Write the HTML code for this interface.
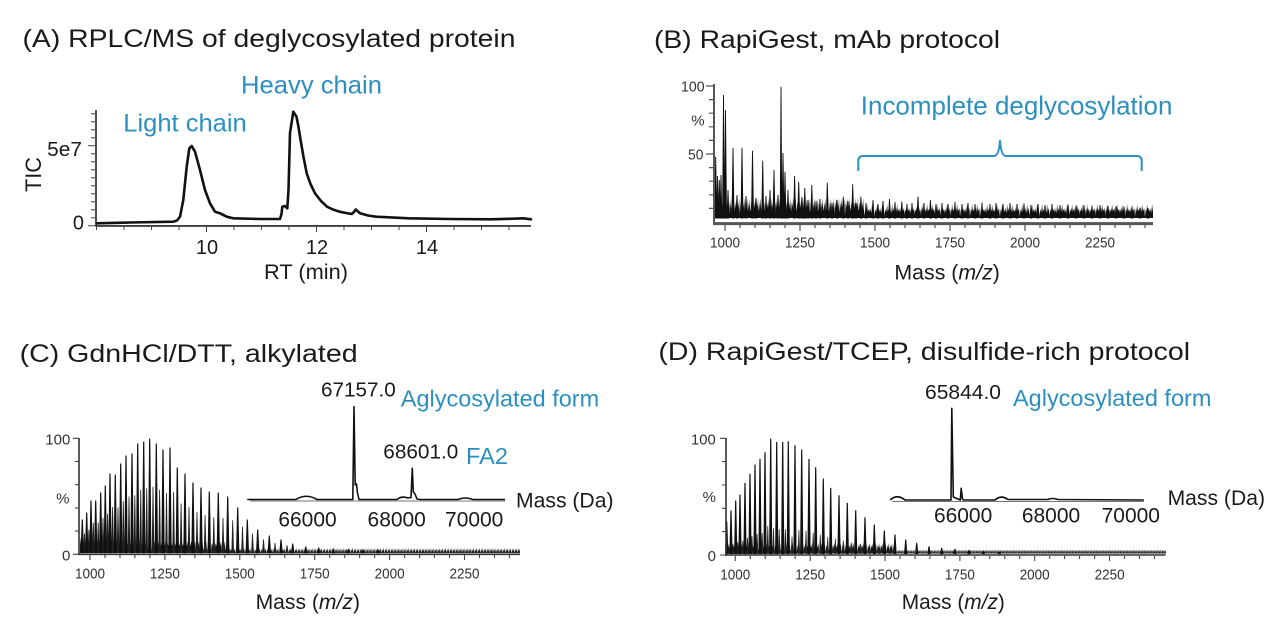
<!DOCTYPE html>
<html><head><meta charset="utf-8"><style>
html,body{margin:0;padding:0;background:#fff;}
svg{display:block;}
text{font-family:"Liberation Sans",Arial,sans-serif;}
</style></head><body>
<svg width="1280" height="632" viewBox="0 0 1280 632" xmlns="http://www.w3.org/2000/svg">
<defs>
<pattern id="pB1" x="0" y="200" width="5" height="20" patternUnits="userSpaceOnUse"><path d="M0,18L0.7,10L1.4,13L2.1,4L2.8,12L3.6,9L4.3,13L5,18Z" fill="#111"/></pattern>
<pattern id="pB2" x="0" y="200" width="3.3" height="20" patternUnits="userSpaceOnUse"><path d="M0,18L0.8,9L1.6,12L2.4,7.5L3.3,18Z" fill="#111"/></pattern>
<pattern id="pB3" x="0" y="190" width="2.7" height="30" patternUnits="userSpaceOnUse"><path d="M0,28L0.6,12L1.3,18L2,8L2.7,28Z" fill="#111"/></pattern>
<pattern id="pC1" x="0" y="530" width="2.9" height="24" patternUnits="userSpaceOnUse"><path d="M0,23L0.7,10L1.4,14L2.2,7L2.9,23Z" fill="#111"/></pattern>
<pattern id="pC2" x="0" y="530" width="3.7" height="24" patternUnits="userSpaceOnUse"><path d="M0,23L0.9,13L1.8,16L2.7,11L3.7,23Z" fill="#111"/></pattern>
<pattern id="pC3" x="0" y="540" width="3.1" height="14" patternUnits="userSpaceOnUse"><path d="M0,13L0.8,9L1.6,11L2.3,8L3.1,13Z" fill="#222"/></pattern>
<pattern id="pD1" x="0" y="536" width="3.2" height="18" patternUnits="userSpaceOnUse"><path d="M0,17L0.8,9L1.6,12L2.4,7L3.2,17Z" fill="#111"/></pattern>
<pattern id="pD2" x="0" y="544" width="3" height="10" patternUnits="userSpaceOnUse"><path d="M0,9.5L0.8,6L1.6,7.5L2.3,5.5L3,9.5Z" fill="#222"/></pattern>
</defs>

<!-- ================= PANEL A ================= -->
<text x="22.5" y="47" font-size="25" fill="#1a1a1a" textLength="493" lengthAdjust="spacingAndGlyphs">(A) RPLC/MS of deglycosylated protein</text>
<text x="241" y="93.5" font-size="25" fill="#2b8fbf" textLength="141" lengthAdjust="spacingAndGlyphs">Heavy chain</text>
<text x="123.3" y="131.7" font-size="25" fill="#2b8fbf" textLength="123.4" lengthAdjust="spacingAndGlyphs">Light chain</text>
<text transform="translate(41,174.5) rotate(-90)" text-anchor="middle" font-size="22" fill="#1a1a1a" textLength="35" lengthAdjust="spacingAndGlyphs">TIC</text>
<text x="82" y="156" text-anchor="end" font-size="20" fill="#1a1a1a" textLength="34.8" lengthAdjust="spacingAndGlyphs">5e7</text>
<text x="84" y="229.5" text-anchor="end" font-size="20" fill="#1a1a1a">0</text>
<text x="207" y="254" text-anchor="middle" font-size="20" fill="#1a1a1a">10</text>
<text x="317" y="254" text-anchor="middle" font-size="20" fill="#1a1a1a">12</text>
<text x="427" y="254" text-anchor="middle" font-size="20" fill="#1a1a1a">14</text>
<text x="264" y="279" font-size="21" fill="#1a1a1a" textLength="84" lengthAdjust="spacingAndGlyphs">RT (min)</text>
<path d="M96,110V226.5M95.5,225.9H531" stroke="#222" stroke-width="1.6" fill="none"/>
<path d="M88,225.7H96M91,217.7H96M91,209.7H96M91,201.7H96M91,193.7H96M91,185.7H96M91,177.7H96M91,169.7H96M91,161.7H96M91,153.7H96M88,145.7H96M91,137.7H96M91,129.7H96M91,121.7H96M91,113.7H96" stroke="#444" stroke-width="1" fill="none"/>
<path d="M96.5,226V230M124,226V230M151.5,226V230M179,226V230M206.5,226V232M234,226V230M261.5,226V230M289,226V230M316.5,226V232M344,226V230M371.5,226V230M399,226V230M426.5,226V232M454,226V230M481.5,226V230M509,226V230" stroke="#444" stroke-width="1" fill="none"/>
<path d="M96.7,223.3L130,222.5L173.3,221.7L177,220.5L180,216.7L183.3,200L186.7,166.7L189.3,148.3L191.7,146L195,151.7L200,170L205,190L210,203.3L215,211.7L220,213.3L226.7,216.7L233.3,218.3L260,219L280,219L281.5,214L282.3,206.7L285,206L287.3,208.3L288.5,190L290,133L293.3,111.7L296.5,116.7L298.5,127L300.6,140L303.5,157L306.7,173.3L310.5,184L315,193.3L321,201L327,206.7L333,209.5L339.5,211.7L346,213L351.7,214L354,212L355.8,209.5L358,211.5L360,213.3L368,215.5L376,216.7L409,218.3L450,219L491,219.3L510,218.8L523.5,218.3L531,219.3" stroke="#111" stroke-width="2.6" fill="none" stroke-linejoin="round" stroke-linecap="round"/>

<!-- ================= PANEL B ================= -->
<text x="654" y="48" font-size="25" fill="#1a1a1a" textLength="346" lengthAdjust="spacingAndGlyphs">(B) RapiGest, mAb protocol</text>
<text x="860.8" y="114.3" font-size="26" fill="#2b8fbf" textLength="311.6" lengthAdjust="spacingAndGlyphs">Incomplete deglycosylation</text>
<path d="M858.3,171L858.3,161Q858.3,156 863.3,156L994,156Q999,156 1000,140Q1001,156 1006,156L1136.7,156Q1141.7,156 1141.7,161L1141.7,171" stroke="#2b8fbf" stroke-width="2" fill="none"/>
<text x="704.6" y="91.4" text-anchor="end" font-size="15" fill="#333" textLength="23.6" lengthAdjust="spacingAndGlyphs">100</text>
<text x="704.6" y="125.4" text-anchor="end" font-size="15" fill="#333">%</text>
<text x="703.4" y="159.4" text-anchor="end" font-size="15" fill="#333" textLength="15.4" lengthAdjust="spacingAndGlyphs">50</text>
<g font-size="15" fill="#333" text-anchor="middle">
<text x="725" y="247.3" textLength="30" lengthAdjust="spacingAndGlyphs">1000</text>
<text x="800" y="247.3" textLength="30" lengthAdjust="spacingAndGlyphs">1250</text>
<text x="875" y="247.3" textLength="30" lengthAdjust="spacingAndGlyphs">1500</text>
<text x="950" y="247.3" textLength="30" lengthAdjust="spacingAndGlyphs">1750</text>
<text x="1025" y="247.3" textLength="30" lengthAdjust="spacingAndGlyphs">2000</text>
<text x="1100" y="247.3" textLength="30" lengthAdjust="spacingAndGlyphs">2250</text>
</g>
<text x="894.4" y="279.3" font-size="21" fill="#1a1a1a" textLength="105.5" lengthAdjust="spacingAndGlyphs">Mass (<tspan font-style="italic">m/z</tspan>)</text>
<rect x="714" y="200" width="439" height="18.5" fill="url(#pB1)"/>
<rect x="714" y="200" width="439" height="18.5" fill="url(#pB2)"/>
<rect x="714" y="190" width="150" height="28" fill="url(#pB3)"/>
<path fill="#111" stroke="#111" stroke-width="0.9" d="M714.8,218L715.7,156.7L716.6,218ZM716.6,218L717.5,176L718.4,218ZM718.4,218L719.3,180L720.2,218ZM720.1,218L721,175L721.9,218ZM722.6,218L723.5,95L724.4,218ZM724.5,218L725.5,110L726.5,218ZM727.1,218L728,190L728.9,218ZM732,218L733,148L734,218ZM736.1,218L737,195L737.9,218ZM741,218L742,147.7L743,218ZM745.1,218L746,196L746.9,218ZM751.5,218L752.5,150.7L753.5,218ZM755.1,218L756,198L756.9,218ZM761.7,218L762.7,160.7L763.7,218ZM765.1,218L766,196L766.9,218ZM769.1,218L770,190L770.9,218ZM773,218L774,170L775,218ZM777.1,218L778,195L778.9,218ZM780.2,218L781,86.7L781.8,218ZM782,218L783,153L784,218ZM784.1,218L785,171.7L785.9,218ZM787.1,218L788,190L788.9,218ZM793.6,218L794.6,176L795.6,218ZM797.7,218L798.7,181.7L799.7,218ZM801.1,218L802,197L802.9,218ZM803.8,218L804.8,188L805.8,218ZM807.1,218L808,200L808.9,218ZM810.8,218L811.8,185L812.8,218ZM815.1,218L816,201L816.9,218ZM819.1,218L820,199L820.9,218ZM826.3,218L827.3,182.7L828.3,218ZM831.1,218L832,203L832.9,218ZM836.1,218L837,200L837.9,218ZM842.3,218L843.3,196.7L844.3,218ZM847.1,218L848,201L848.9,218ZM851.7,218L852.7,184.3L853.7,218ZM855.1,218L856,203L856.9,218ZM859.9,218L860.9,196.7L861.9,218ZM865.1,218L866,203L866.9,218ZM872,218L873,200L874,218ZM877.1,218L878,204L878.9,218ZM882,218L883,201L884,218ZM888.5,218L889.5,199L890.5,218ZM894.1,218L895,202L895.9,218ZM900.8,218L901.8,201.7L902.8,218ZM906.1,218L907,204L907.9,218ZM911.1,218L912,203L912.9,218ZM917,218L918,196.7L919,218ZM923.1,218L924,203L924.9,218ZM929.4,218L930.4,200L931.4,218ZM935.1,218L936,204L936.9,218ZM941.1,218L942,203L942.9,218ZM947.1,218L948,204L948.9,218ZM954.1,218L955,202L955.9,218ZM961.1,218L962,204L962.9,218ZM967.1,218L968,203L968.9,218ZM974.1,218L975,204L975.9,218ZM981.1,218L982,202.5L982.9,218ZM989.1,218L990,204L990.9,218ZM995.1,218L996,203L996.9,218ZM1002.1,218L1003,204L1003.9,218ZM1009.1,218L1010,203L1010.9,218ZM1016.1,218L1017,204L1017.9,218ZM1023.1,218L1024,203.5L1024.9,218ZM1030.1,218L1031,205L1031.9,218ZM1037.1,218L1038,204L1038.9,218ZM1044.1,218L1045,205L1045.9,218ZM1051.1,218L1052,204L1052.9,218ZM1059.1,218L1060,205L1060.9,218ZM1067.1,218L1068,204.5L1068.9,218ZM1075.1,218L1076,205.5L1076.9,218ZM1083.1,218L1084,205L1084.9,218ZM1091.1,218L1092,206L1092.9,218ZM1099.1,218L1100,205L1100.9,218ZM1107.1,218L1108,206L1108.9,218ZM1115.1,218L1116,206L1116.9,218ZM1123.1,218L1124,206.5L1124.9,218ZM1131.1,218L1132,207L1132.9,218ZM1139.1,218L1140,207.5L1140.9,218ZM1147.1,218L1148,208L1148.9,218Z"/>
<path d="M714,84V224" stroke="#555" stroke-width="2" fill="none"/>
<path d="M713,223.6H1153" stroke="#555" stroke-width="3" fill="none"/>
<path d="M706,86H714M709,99.6H714M709,113.2H714M709,126.8H714M709,140.4H714M706,154H714M709,167.6H714M709,181.2H714M709,194.8H714M709,208.4H714" stroke="#555" stroke-width="1.2" fill="none"/>
<path d="M725,224V231M740,224V228M755,224V228M770,224V228M785,224V228M800,224V231M815,224V228M830,224V228M845,224V228M860,224V228M875,224V231M890,224V228M905,224V228M920,224V228M935,224V228M950,224V231M965,224V228M980,224V228M995,224V228M1010,224V228M1025,224V231M1040,224V228M1055,224V228M1070,224V228M1085,224V228M1100,224V231M1115,224V228M1130,224V228M1145,224V228" stroke="#555" stroke-width="1.2" fill="none"/>

<!-- ================= PANEL C ================= -->
<text x="19.6" y="362" font-size="25" fill="#1a1a1a" textLength="338" lengthAdjust="spacingAndGlyphs">(C) GdnHCl/DTT, alkylated</text>
<text x="321" y="396.7" font-size="20" fill="#1a1a1a" textLength="74.7" lengthAdjust="spacingAndGlyphs">67157.0</text>
<text x="400.8" y="406.7" font-size="23.5" fill="#2b8fbf" textLength="198.4" lengthAdjust="spacingAndGlyphs">Aglycosylated form</text>
<text x="383.3" y="458.3" font-size="20" fill="#1a1a1a" textLength="75" lengthAdjust="spacingAndGlyphs">68601.0</text>
<text x="466" y="464" font-size="23.5" fill="#2b8fbf" textLength="42" lengthAdjust="spacingAndGlyphs">FA2</text>
<text x="516" y="507.5" font-size="21" fill="#1a1a1a" textLength="97.5" lengthAdjust="spacingAndGlyphs">Mass (Da)</text>
<g font-size="21" fill="#1a1a1a" text-anchor="middle">
<text x="307.5" y="526.7" textLength="58.3" lengthAdjust="spacingAndGlyphs">66000</text>
<text x="396.7" y="526.7" textLength="58.3" lengthAdjust="spacingAndGlyphs">68000</text>
<text x="474.2" y="526.7" textLength="58.3" lengthAdjust="spacingAndGlyphs">70000</text>
</g>
<path d="M247.3,499.5L296,499.5Q306,493 317,499.5L352.8,499.5L354,406.7L355.2,485L356.5,484L357.5,493L359,499.5L397,499.5Q402,495.5 408,498L411,497.5L412.3,468.3L413.3,492L415,494L417,499L420,499.5L458,499.5Q465,496.5 473,499.5L505,499.5" stroke="#111" stroke-width="1.6" fill="none" stroke-linejoin="round"/>
<path d="M250,501H505" stroke="#777" stroke-width="1" fill="none"/>
<text x="70.3" y="444.7" text-anchor="end" font-size="15" fill="#333" textLength="25" lengthAdjust="spacingAndGlyphs">100</text>
<text x="69.5" y="503.7" text-anchor="end" font-size="15" fill="#333">%</text>
<text x="70.3" y="560.4" text-anchor="end" font-size="15" fill="#333">0</text>
<g font-size="15" fill="#333" text-anchor="middle">
<text x="90" y="578.7" textLength="30" lengthAdjust="spacingAndGlyphs">1000</text>
<text x="164.9" y="578.7" textLength="30" lengthAdjust="spacingAndGlyphs">1250</text>
<text x="239.8" y="578.7" textLength="30" lengthAdjust="spacingAndGlyphs">1500</text>
<text x="314.7" y="578.7" textLength="30" lengthAdjust="spacingAndGlyphs">1750</text>
<text x="389.6" y="578.7" textLength="30" lengthAdjust="spacingAndGlyphs">2000</text>
<text x="464.5" y="578.7" textLength="30" lengthAdjust="spacingAndGlyphs">2250</text>
</g>
<text x="255.6" y="609" font-size="21" fill="#1a1a1a" textLength="104.4" lengthAdjust="spacingAndGlyphs">Mass (<tspan font-style="italic">m/z</tspan>)</text>
<rect x="80" y="530" width="60" height="23" fill="url(#pC1)"/>
<rect x="80" y="530" width="150" height="23" fill="url(#pC2)"/>
<rect x="80" y="540" width="440" height="13" fill="url(#pC3)"/>
<path fill="#222" stroke="#222" stroke-width="0.8" d="M83.6,552.5L84.5,533.6L85.4,552.5ZM88,552.5L88.9,529.6L89.8,552.5ZM92.4,552.5L93.3,522.6L94.2,552.5ZM97.3,552.5L98.2,522.6L99.1,552.5ZM102.1,552.5L103,518L103.9,552.5ZM106.7,552.5L107.6,513.9L108.5,552.5ZM111.7,552.5L112.6,507L113.5,552.5ZM117.1,552.5L118,507.5L118.9,552.5ZM122.4,552.5L123.3,501.2L124.2,552.5ZM128.1,552.5L129,496.5L129.9,552.5ZM133.9,552.5L134.8,495.4L135.7,552.5ZM139.8,552.5L140.7,489.6L141.6,552.5ZM145.8,552.5L146.7,488.4L147.6,552.5ZM152.1,552.5L153,486.7L153.9,552.5ZM158.7,552.5L159.6,489.6L160.5,552.5ZM165.6,552.5L166.5,493L167.4,552.5ZM172.7,552.5L173.6,491.9L174.5,552.5ZM180.2,552.5L181.1,503.5L182,552.5ZM188.1,552.5L189,507L189.9,552.5ZM196.1,552.5L197,512.2L197.9,552.5ZM204.2,552.5L205.1,515.1L206,552.5ZM212.9,552.5L213.8,517.4L214.7,552.5ZM222.1,552.5L223,518L223.9,552.5ZM231.8,552.5L232.7,520.3L233.6,552.5ZM241.6,552.5L242.5,526.7L243.4,552.5ZM251.6,552.5L252.5,533.6L253.4,552.5ZM262.6,552.5L263.5,539.5L264.4,552.5ZM274.1,552.5L275,542.9L275.9,552.5ZM286.1,552.5L287,545.2L287.9,552.5Z"/>
<path fill="#111" stroke="#111" stroke-width="1.2" stroke-linejoin="round" d="M81.2,552.5L82.3,520L83.4,552.5ZM85.6,552.5L86.7,513L87.8,552.5ZM89.9,552.5L91,501L92.1,552.5ZM94.6,552.5L95.7,501L96.8,552.5ZM99.6,552.5L100.7,493L101.8,552.5ZM104.2,552.5L105.3,486L106.4,552.5ZM108.9,552.5L110,474L111.1,552.5ZM114.2,552.5L115.3,475L116.4,552.5ZM119.6,552.5L120.7,464L121.8,552.5ZM124.9,552.5L126,456L127.1,552.5ZM130.9,552.5L132,454L133.1,552.5ZM136.6,552.5L137.7,444L138.8,552.5ZM142.6,552.5L143.7,442L144.8,552.5ZM148.6,552.5L149.7,439L150.8,552.5ZM155.2,552.5L156.3,444L157.4,552.5ZM161.9,552.5L163,450L164.1,552.5ZM168.9,552.5L170,448L171.1,552.5ZM176.2,552.5L177.3,468L178.4,552.5ZM183.9,552.5L185,474L186.1,552.5ZM191.9,552.5L193,483L194.1,552.5ZM199.9,552.5L201,488L202.1,552.5ZM208.2,552.5L209.3,492L210.4,552.5ZM217.2,552.5L218.3,493L219.4,552.5ZM226.6,552.5L227.7,497L228.8,552.5ZM236.6,552.5L237.7,508L238.8,552.5ZM246.2,552.5L247.3,520L248.4,552.5ZM256.6,552.5L257.7,530L258.8,552.5ZM268.2,552.5L269.3,536L270.4,552.5ZM279.9,552.5L281,540L282.1,552.5ZM291.6,552.5L292.7,544L293.8,552.5ZM304.6,552.5L305.7,547L306.8,552.5ZM317.6,552.5L318.7,548L319.8,552.5ZM332.2,552.5L333.3,549L334.4,552.5ZM347.2,552.5L348.3,549.5L349.4,552.5ZM361.9,552.5L363,550L364.1,552.5ZM376.9,552.5L378,550L379.1,552.5Z"/>
<path d="M79,438V555M78.5,554.3H520" stroke="#333" stroke-width="1.6" fill="none"/>
<path d="M73,438.3H79M75,461.5H79M75,484.7H79M75,507.9H79M75,531.1H79M73,554.3H79" stroke="#444" stroke-width="1.1" fill="none"/>
<path d="M90,555V560M105,555V558M120,555V558M134.9,555V558M149.9,555V558M164.9,555V560M179.9,555V558M194.9,555V558M209.8,555V558M224.8,555V558M239.8,555V560M254.8,555V558M269.8,555V558M284.7,555V558M299.7,555V558M314.7,555V560M329.7,555V558M344.7,555V558M359.6,555V558M374.6,555V558M389.6,555V560M404.6,555V558M419.6,555V558M434.5,555V558M449.5,555V558M464.5,555V560M479.5,555V558M494.5,555V558M509.4,555V558" stroke="#444" stroke-width="1.1" fill="none"/>

<!-- ================= PANEL D ================= -->
<text x="658.4" y="360" font-size="25" fill="#1a1a1a" textLength="531.7" lengthAdjust="spacingAndGlyphs">(D) RapiGest/TCEP, disulfide-rich protocol</text>
<text x="925" y="399.2" font-size="20" fill="#1a1a1a" textLength="76" lengthAdjust="spacingAndGlyphs">65844.0</text>
<text x="1013" y="406" font-size="23.5" fill="#2b8fbf" textLength="198.4" lengthAdjust="spacingAndGlyphs">Aglycosylated form</text>
<text x="1167.6" y="505" font-size="21" fill="#1a1a1a" textLength="97.4" lengthAdjust="spacingAndGlyphs">Mass (Da)</text>
<g font-size="21" fill="#1a1a1a" text-anchor="middle">
<text x="963.1" y="522.5" textLength="58.3" lengthAdjust="spacingAndGlyphs">66000</text>
<text x="1051" y="522.5" textLength="58.3" lengthAdjust="spacingAndGlyphs">68000</text>
<text x="1130.8" y="522.5" textLength="58.3" lengthAdjust="spacingAndGlyphs">70000</text>
</g>
<path d="M890.3,500Q897,493.5 905,500L951,500L951.8,408.3L953.3,497L958,499L960.3,500L961.2,488.3L962.5,499L963.5,500L995,500Q1001,494.5 1008,499.5L1048,499.5Q1052,497.5 1058,499.5L1143.9,500" stroke="#111" stroke-width="1.6" fill="none" stroke-linejoin="round"/>
<path d="M892,501.5H1143.9" stroke="#777" stroke-width="1" fill="none"/>
<text x="715.7" y="444.7" text-anchor="end" font-size="15" fill="#333" textLength="24.7" lengthAdjust="spacingAndGlyphs">100</text>
<text x="716" y="502" text-anchor="end" font-size="15" fill="#333">%</text>
<text x="716" y="561" text-anchor="end" font-size="15" fill="#333">0</text>
<g font-size="15" fill="#333" text-anchor="middle">
<text x="735.3" y="579.4" textLength="30" lengthAdjust="spacingAndGlyphs">1000</text>
<text x="810.2" y="579.4" textLength="30" lengthAdjust="spacingAndGlyphs">1250</text>
<text x="885" y="579.4" textLength="30" lengthAdjust="spacingAndGlyphs">1500</text>
<text x="959.9" y="579.4" textLength="30" lengthAdjust="spacingAndGlyphs">1750</text>
<text x="1034.7" y="579.4" textLength="30" lengthAdjust="spacingAndGlyphs">2000</text>
<text x="1109.6" y="579.4" textLength="30" lengthAdjust="spacingAndGlyphs">2250</text>
</g>
<text x="901.8" y="609" font-size="21" fill="#1a1a1a" textLength="103" lengthAdjust="spacingAndGlyphs">Mass (<tspan font-style="italic">m/z</tspan>)</text>
<rect x="726" y="536" width="170" height="17.5" fill="url(#pD1)"/>
<rect x="726" y="544" width="440" height="9.5" fill="url(#pD2)"/>
<path fill="#222" stroke="#222" stroke-width="0.7" d="M728,553.5L728.8,546.5L729.6,553.5ZM732.2,553.5L733,544.3L733.8,553.5ZM736.9,553.5L737.7,542L738.5,553.5ZM742,553.5L742.8,540.6L743.6,553.5ZM746.7,553.5L747.5,538L748.3,553.5ZM751.2,553.5L752,536.2L752.8,553.5ZM756.3,553.5L757.1,534L757.9,553.5ZM761.4,553.5L762.2,533L763,553.5ZM767,553.5L767.8,526L768.6,553.5ZM772.7,553.5L773.5,528.4L774.3,553.5ZM778.4,553.5L779.2,529.1L780,553.5ZM784.6,553.5L785.4,529.1L786.2,553.5ZM791.2,553.5L792,536.7L792.8,553.5ZM798.1,553.5L798.9,530L799.7,553.5ZM805.2,553.5L806,530.7L806.8,553.5ZM812.4,553.5L813.2,532.6L814,553.5ZM819.5,553.5L820.3,534.6L821.1,553.5ZM826.9,553.5L827.7,537.2L828.5,553.5ZM834.5,553.5L835.3,538.7L836.1,553.5ZM842.5,553.5L843.3,540.6L844.1,553.5ZM850.9,553.5L851.7,542.5L852.5,553.5ZM859.7,553.5L860.5,543.9L861.3,553.5ZM868.9,553.5L869.7,545.8L870.5,553.5ZM878.7,553.5L879.5,547.2L880.3,553.5ZM889.3,553.5L890.1,548.3L890.9,553.5Z"/>
<path fill="#111" stroke="#111" stroke-width="1.2" stroke-linejoin="round" d="M725.7,553.5L726.7,521.7L727.7,553.5ZM730,553.5L731,511L732,553.5ZM734.7,553.5L735.7,501L736.7,553.5ZM739,553.5L740,495L741,553.5ZM744,553.5L745,483.3L746,553.5ZM749,553.5L750,474.3L751,553.5ZM754,553.5L755,465L756,553.5ZM759,553.5L760,459.3L761,553.5ZM764,553.5L765,452.7L766,553.5ZM769.7,553.5L770.7,439L771.7,553.5ZM775.7,553.5L776.7,442.3L777.7,553.5ZM781.7,553.5L782.7,442.3L783.7,553.5ZM787.3,553.5L788.3,441.7L789.3,553.5ZM794,553.5L795,445.7L796,553.5ZM800.7,553.5L801.7,450L802.7,553.5ZM808,553.5L809,459.3L810,553.5ZM814.7,553.5L815.7,467.7L816.7,553.5ZM822.3,553.5L823.3,479L824.3,553.5ZM829.7,553.5L830.7,488.3L831.7,553.5ZM838,553.5L839,495.7L840,553.5ZM846.3,553.5L847.3,503.3L848.3,553.5ZM854.7,553.5L855.7,510.7L856.7,553.5ZM864,553.5L865,517.7L866,553.5ZM873.3,553.5L874.3,525L875.3,553.5ZM883.3,553.5L884.3,531L885.3,553.5ZM894,553.5L895,535L896,553.5ZM904.7,553.5L905.7,540L906.7,553.5ZM915.7,553.5L916.7,543.3L917.7,553.5ZM928,553.5L929,546.7L930,553.5ZM940.7,553.5L941.7,548.3L942.7,553.5ZM954,553.5L955,549.3L956,553.5ZM968,553.5L969,550.7L970,553.5ZM982.3,553.5L983.3,551.7L984.3,553.5ZM998.3,553.5L999.3,552.3L1000.3,553.5Z"/>
<path d="M726,438V556M725.5,555H1165.6" stroke="#333" stroke-width="1.6" fill="none"/>
<path d="M720,438.3H726M722,461.6H726M722,485H726M722,508.3H726M722,531.6H726M720,555H726" stroke="#444" stroke-width="1.1" fill="none"/>
<path d="M735.3,556V561M750.3,556V559M765.2,556V559M780.2,556V559M795.2,556V559M810.2,556V561M825.1,556V559M840.1,556V559M855.1,556V559M870,556V559M885,556V561M900,556V559M915,556V559M929.9,556V559M944.9,556V559M959.9,556V561M974.8,556V559M989.8,556V559M1004.8,556V559M1019.7,556V559M1034.7,556V561M1049.7,556V559M1064.6,556V559M1079.6,556V559M1094.6,556V559M1109.6,556V561M1124.5,556V559M1139.5,556V559M1154.5,556V559" stroke="#444" stroke-width="1.1" fill="none"/>
</svg>
</body></html>
